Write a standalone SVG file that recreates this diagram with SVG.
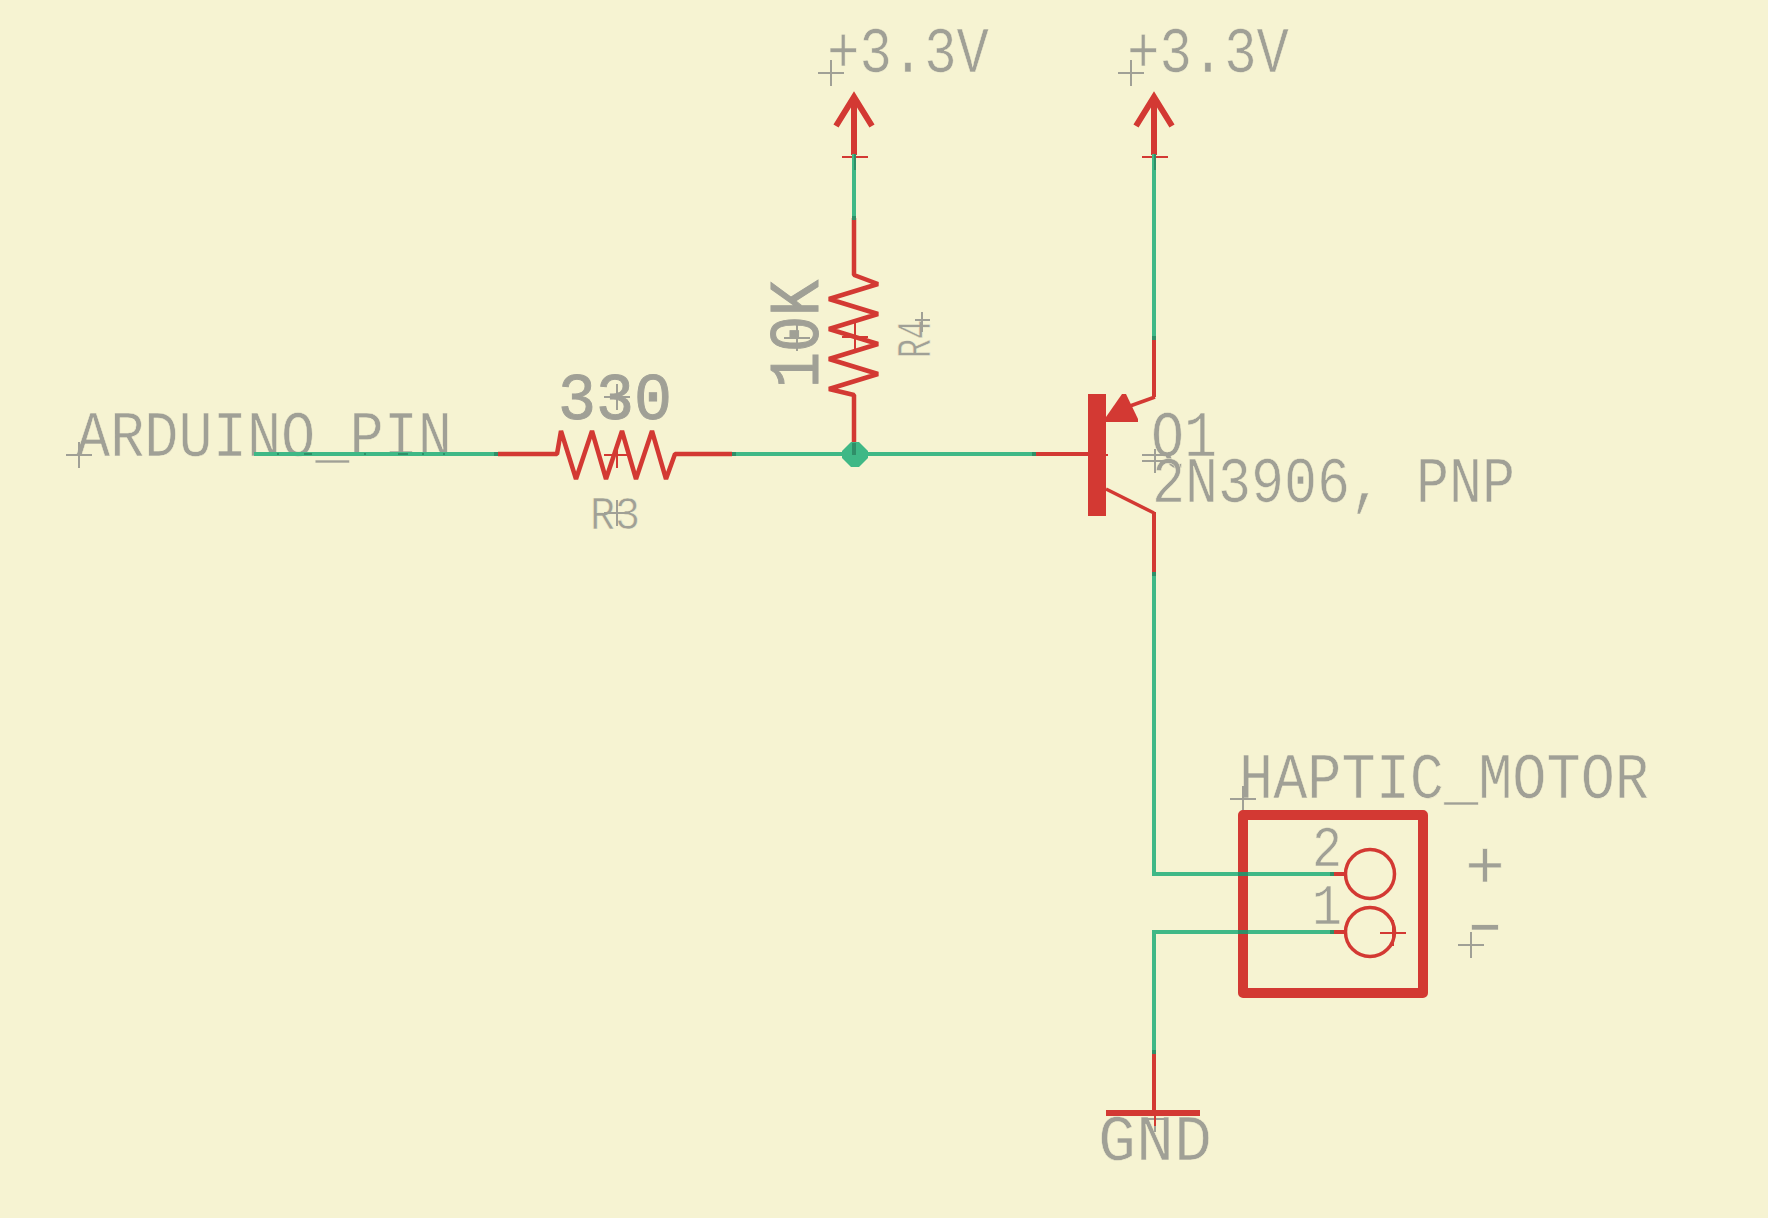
<svg xmlns="http://www.w3.org/2000/svg" width="1768" height="1218" viewBox="0 0 1768 1218">
<style>
.w{fill:none;stroke:#3fb886;stroke-width:4;shape-rendering:crispEdges}
.r{fill:none;stroke:#d33933;stroke-width:4.5;stroke-linejoin:bevel}
.a{fill:none;stroke:#d33933;stroke-width:6;stroke-linejoin:miter}
.t{fill:none;stroke:#d33933;stroke-width:3.5;stroke-linejoin:miter}
.e{fill:none;stroke:#d33933;stroke-width:4;shape-rendering:crispEdges}
.d{fill:none;stroke:#2f8f68;stroke-width:4;shape-rendering:crispEdges}
.n{fill:none;stroke:#2f8f68;stroke-width:2;shape-rendering:crispEdges}
.xg{fill:none;stroke:#a0a096;stroke-width:2;shape-rendering:crispEdges}
.xr{fill:none;stroke:#d33933;stroke-width:2;shape-rendering:crispEdges}
text{font-family:"Liberation Mono","DejaVu Sans Mono",monospace;fill:#a0a096;stroke:#f6f3d2;stroke-width:.6}
text.b{stroke:#a0a096;stroke-width:1}
</style>
<rect width="1768" height="1218" fill="#f6f3d2"/>
<g id="power1">
<text x="827" y="72" font-size="64" textLength="162" lengthAdjust="spacingAndGlyphs">+3.3V</text>
<path class="xg" d="M818 73H844M831 60V86"/>
<path class="a" d="M854 155V100M836 126L854 97L872 126"/>
<path class="xr" d="M842 157H868"/>
</g>
<g id="power2">
<text x="1127" y="72" font-size="64" textLength="162" lengthAdjust="spacingAndGlyphs">+3.3V</text>
<path class="xg" d="M1118 73H1144M1131 60V86"/>
<path class="a" d="M1154 155V100M1136 126L1154 97L1172 126"/>
<path class="xr" d="M1142 157H1168"/>
</g>
<g id="R4">
<text class="b" transform="translate(818 388) rotate(-90)" font-size="70" textLength="108" lengthAdjust="spacingAndGlyphs">10K</text>
<text transform="translate(930 358) rotate(-90)" font-size="48" textLength="38" lengthAdjust="spacingAndGlyphs">R4</text>
<path class="xg" d="M784 338H810M797 325V351M915 320H930M922 312V332"/>
<path class="r" d="M854 218V275L878 284L829 299L878 314L829 329L878 344L829 359L878 374L829 389L854 395V450"/>
<path class="xr" d="M842 337H868M855 323V350"/>
</g>
<g id="R3">
<text class="b" x="558" y="419" font-size="66" textLength="114" lengthAdjust="spacingAndGlyphs">330</text>
<text x="590" y="529" font-size="47" textLength="50" lengthAdjust="spacingAndGlyphs">R3</text>
<path class="xg" d="M604 397H630M617 384V410M604 513H630M617 500V526"/>
<path class="r" d="M498 454H557L561 431L576 479L592 431L606 479L622 431L636 479L652 431L666 479L675 454H732"/>
<path class="xr" d="M604 455H630M617 442V468"/>
</g>
<g id="arduino-pin">
<text x="76" y="456" font-size="64" textLength="376" lengthAdjust="spacingAndGlyphs">ARDUINO_PIN</text>
<path class="xg" d="M66 455H92M79 442V468"/>
</g>
<g id="Q1">
<text x="1151" y="456" font-size="64" textLength="66" lengthAdjust="spacingAndGlyphs">Q1</text>
<text x="1152" y="502" font-size="64" textLength="363" lengthAdjust="spacingAndGlyphs">2N3906, PNP</text>
<path class="xg" d="M1142 455H1168M1142 461H1168M1155 449V473"/>
<path class="e" d="M1154 338V397"/>
<path class="t" d="M1155 397L1130 406"/>
<path class="t" d="M1106 489L1154 513"/>
<path class="e" d="M1154 512V572M1036 454H1090"/>
<rect x="1088" y="394" width="18" height="122" fill="#d33933"/>
<path d="M1122 394H1126L1138 419V422H1104L1106 417Z" fill="#d33933"/>
<path class="xr" d="M1090 455H1108"/>
</g>
<g id="haptic-motor">
<text x="1239" y="798" font-size="64" textLength="410" lengthAdjust="spacingAndGlyphs">HAPTIC_MOTOR</text>
<text x="1312" y="866" font-size="58" textLength="30" lengthAdjust="spacingAndGlyphs">2</text>
<text x="1312" y="924" font-size="58" textLength="30" lengthAdjust="spacingAndGlyphs">1</text>
<text x="1465" y="888" font-size="68" textLength="40" lengthAdjust="spacingAndGlyphs">+</text>
<text x="1455" y="946" font-size="68" textLength="60" lengthAdjust="spacingAndGlyphs">-</text>
<path class="xg" d="M1230 799H1256M1243 786V812M1458 945H1484M1471 932V958"/>
<rect x="1243" y="815" width="180" height="178" fill="none" stroke="#d33933" stroke-width="10" stroke-linejoin="round"/>
<path class="e" d="M1334 874H1345M1334 932H1345"/>
<circle cx="1370" cy="874" r="24.5" fill="none" stroke="#d33933" stroke-width="3.5"/>
<circle cx="1370" cy="932" r="24.5" fill="none" stroke="#d33933" stroke-width="3.5"/>
<path class="xr" d="M1380 933H1406M1393 920V946"/>
</g>
<g id="gnd">
<text x="1098" y="1160" font-size="64" textLength="114" lengthAdjust="spacingAndGlyphs">GND</text>
<path class="xg" d="M1142 1119H1168M1155 1116V1132"/>
<path class="e" d="M1154 1054V1112"/>
<rect x="1106" y="1110" width="94" height="6" fill="#d33933"/>
<path class="xr" d="M1155 1106V1126"/>
</g>
<g id="connectors">
<path class="w" d="M854 154V218"/><path class="d" d="M854 216V220"/><path class="n" d="M855 154V170"/>
<path class="w" d="M1154 154V338"/><path class="d" d="M1154 336V340"/><path class="n" d="M1155 154V170"/>
<path class="w" d="M254 454H498"/><path class="d" d="M494 454H498"/>
<path class="n" d="M277 454H279M304 454H312M364 454H366M398 454H408M422 454H424M443 454H445"/>
<path class="w" d="M732 454H1036"/><path class="d" d="M732 454H736M1032 454H1036"/>
<path class="w" d="M1154 572V874H1334"/><path class="d" d="M1154 572V576M1330 874H1334M1238 874H1248"/>
<path class="w" d="M1334 932H1154V1050"/><path class="d" d="M1154 1050V1054M1330 932H1334M1238 932H1248"/>
</g>
<g id="junction"><path d="M851 442H859L868 451V458L859 467H851L842 458V451Z" fill="#3fb886"/><path class="d" d="M854 443V455"/></g>
</svg>
